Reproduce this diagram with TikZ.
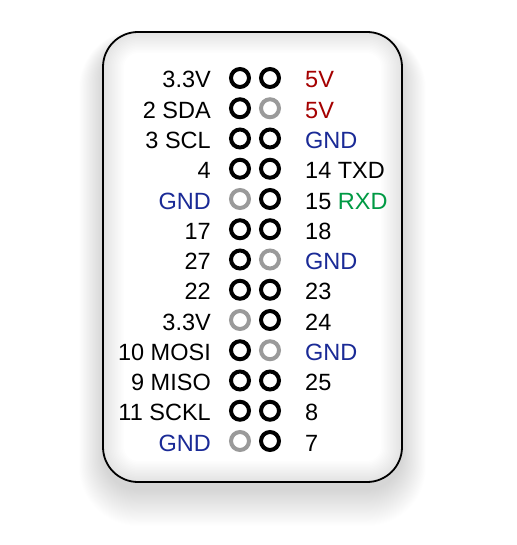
\documentclass[tikz,border=0pt]{standalone}
\usepackage{fontspec}
\setmainfont{Liberation Sans}
\definecolor{pinred}{HTML}{A50000}
\definecolor{pinblue}{HTML}{1A2A96}
\definecolor{pingreen}{HTML}{009A44}
\definecolor{pingray}{HTML}{9A9A9A}
\tikzset{
  pinb/.style={circle, draw=black, line width=4pt, minimum size=18pt, inner sep=0pt},
  ping/.style={pinb, draw=pingray},
  lab/.style={font=\fontsize{23.5}{28}\selectfont, inner sep=0pt},
  llab/.style={lab, anchor=base east},
  rlab/.style={lab, anchor=base west},
}
\begin{document}
\begin{tikzpicture}[x=1pt,y=-1pt]
\useasboundingbox (0,0) rectangle (516,545);
% soft shadow
\foreach \i in {0,...,40}{
  \fill[black, opacity=0.0023, rounded corners={35+\i*0.6}]
    ({103-\i*0.6},{32+10-\i*0.3}) rectangle ({402+\i*0.6},{482+8+\i*0.9});
}
% box
\fill[white, rounded corners=35] (103,32) rectangle (402,482);
\begin{scope}
  \clip[rounded corners=35] (103,32) rectangle (402,482);
  \foreach \w in {3,6,...,42}{
    \draw[black, opacity=0.006, line width=\w pt, rounded corners=35] (103,32) rectangle (402,482);
  }
\end{scope}
\draw[black, line width=1.8pt, rounded corners=35] (103,32) rectangle (402,482);
% pins
\node[pinb] (p1) at (240,78) {};      \node[pinb] (q1) at (270,78) {};
\node[pinb] (p2) at (240,108.25) {};  \node[ping] (q2) at (270,108.25) {};
\node[pinb] (p3) at (240,138.5) {};   \node[pinb] (q3) at (270,138.5) {};
\node[pinb] (p4) at (240,168.75) {};  \node[pinb] (q4) at (270,168.75) {};
\node[ping] (p5) at (240,199) {};     \node[pinb] (q5) at (270,199) {};
\node[pinb] (p6) at (240,229.25) {};  \node[pinb] (q6) at (270,229.25) {};
\node[pinb] (p7) at (240,259.5) {};   \node[ping] (q7) at (270,259.5) {};
\node[pinb] (p8) at (240,289.75) {};  \node[pinb] (q8) at (270,289.75) {};
\node[ping] (p9) at (240,320) {};     \node[pinb] (q9) at (270,320) {};
\node[pinb] (p10) at (240,350.25) {}; \node[ping] (q10) at (270,350.25) {};
\node[pinb] (p11) at (240,380.5) {};  \node[pinb] (q11) at (270,380.5) {};
\node[pinb] (p12) at (240,410.75) {}; \node[pinb] (q12) at (270,410.75) {};
\node[ping] (p13) at (240,441) {};    \node[pinb] (q13) at (270,441) {};
% left labels
\node[llab] (a1) at (211,88) {3.3V};
\node[llab] (a2) at (211,118.25) {2 SDA};
\node[llab] (a3) at (211,148.5) {3 SCL};
\node[llab] (a4) at (211,178.75) {4};
\node[llab, text=pinblue] (a5) at (211,209) {GND};
\node[llab] (a6) at (211,239.25) {17};
\node[llab] (a7) at (211,269.5) {27};
\node[llab] (a8) at (211,299.75) {22};
\node[llab] (a9) at (211,330) {3.3V};
\node[llab] (a10) at (211,360.25) {10 MOSI};
\node[llab] (a11) at (211,390.5) {9 MISO};
\node[llab] (a12) at (211,420.75) {11 SCKL};
\node[llab, text=pinblue] (a13) at (211,451) {GND};
% right labels
\node[rlab, text=pinred] (b1) at (305,88) {5V};
\node[rlab, text=pinred] (b2) at (305,118.25) {5V};
\node[rlab, text=pinblue] (b3) at (305,148.5) {GND};
\node[rlab] (b4) at (305,178.75) {14 TXD};
\node[rlab] (b5) at (305,209) {15 \textcolor{pingreen}{RXD}};
\node[rlab] (b6) at (305,239.25) {18};
\node[rlab, text=pinblue] (b7) at (305,269.5) {GND};
\node[rlab] (b8) at (305,299.75) {23};
\node[rlab] (b9) at (305,330) {24};
\node[rlab, text=pinblue] (b10) at (305,360.25) {GND};
\node[rlab] (b11) at (305,390.5) {25};
\node[rlab] (b12) at (305,420.75) {8};
\node[rlab] (b13) at (305,451) {7};
\end{tikzpicture}
\end{document}
